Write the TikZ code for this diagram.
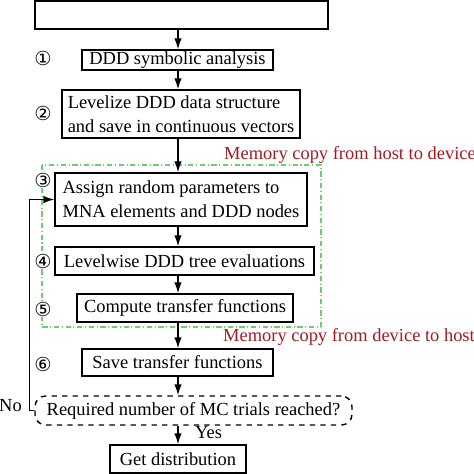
\documentclass[tikz,border=0pt]{standalone}
\usepackage{fontspec}
\setmainfont{Liberation Serif}
\newfontfamily\circfont{DejaVu Sans}
\usetikzlibrary{arrows.meta, positioning, calc}
\definecolor{memred}{RGB}{165,25,35}
\definecolor{gpugreen}{RGB}{110,205,110}

\begin{document}
\begin{tikzpicture}[
  x=0.02cm, y=-0.02cm,
  font=\fontsize{10.5}{13.5}\selectfont,
  box/.style={draw, line width=0.8pt, inner sep=0pt, align=left},
  num/.style={font=\circfont\fontsize{11}{11}\selectfont},
  arr/.style={-{Latex[length=2.2mm,width=1.5mm]}, line width=0.8pt},
  memo/.style={text=memred, anchor=west},
  gpu/.style={draw=gpugreen, line width=0.7pt, dash pattern=on 3pt off 1.5pt on 0.6pt off 1.5pt},
]
\useasboundingbox (0,0) rectangle (474,474);
\coordinate (spine) at (178,0);
\draw[gpu] (42,165) rectangle (321,327);
\node[box, minimum width=5.86cm, minimum height=0.56cm] (start) at (181.5,15) {};
\node[box, minimum width=3.82cm, minimum height=0.4cm] (b1) at (177.5,60) {DDD symbolic analysis};
\node[box, minimum width=4.76cm, minimum height=0.96cm] (b2) at (181,114)
  {Levelize DDD data structure\\and save in continuous vectors};
\node[box, minimum width=5.04cm, minimum height=1.06cm] (b3) at (181,199.5)
  {Assign random parameters to\\MNA elements and DDD nodes};
\node[box, minimum width=5.18cm, minimum height=0.56cm] (b4) at (184.5,261) {Levelwise DDD tree evaluations};
\node[box, minimum width=4.32cm, minimum height=0.56cm] (b5) at (185,308) {Compute transfer functions};
\node[box, minimum width=3.82cm, minimum height=0.54cm] (b6) at (177.5,362.5) {Save transfer functions};
\node[box, dashed, rounded corners=6pt, minimum width=6.34cm, minimum height=0.58cm] (dec) at (193.5,410.5)
  {Required number of MC trials reached?};
\node[box, minimum width=2.72cm, minimum height=0.56cm] (b7) at (178,459) {Get distribution};
\node[memo] (h2d) at (218,155) {Memory copy from host to device};
\node[memo] (d2h) at (217,337) {Memory copy from device to host};
\foreach \n/\y/\c in {n1/58/①, n2/113/②, n3/180/③, n4/261/④, n5/309/⑤, n6/364/⑥}
  \node[num, fill=white, inner sep=0.3pt] (\n) at (43,\y) {\c};
\foreach \a/\b in {start/b1, b1/b2, b2/b3, b3/b4, b4/b5, b5/b6, b6/dec, dec/b7}
  \draw[arr] (spine |- \a.south) -- (spine |- \b.north);
\node[anchor=west] (yes) at (189,433) {Yes};
\node[anchor=east] (no) at (28,406) {No};
\draw[arr] (dec.west) -- ++(-5,0) |- (b3.west);
\end{tikzpicture}
\end{document}
